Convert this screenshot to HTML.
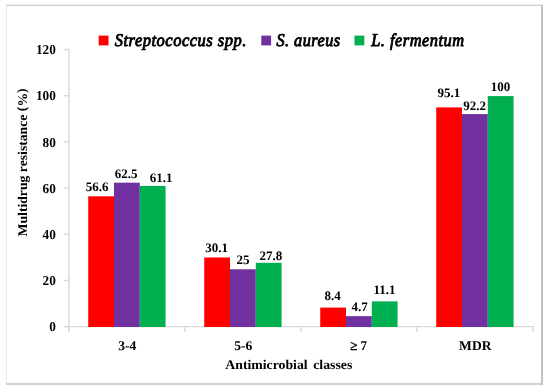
<!DOCTYPE html>
<html><head><meta charset="utf-8"><style>
html,body{margin:0;padding:0;background:#fff;}
body{width:550px;height:390px;overflow:hidden;position:relative;}
svg{position:absolute;left:0;top:0;}
text{font-family:"Liberation Serif",serif;font-weight:bold;fill:#000;text-rendering:geometricPrecision;}
.ax{font-size:13.3px;}
.dl{font-size:13px;}
.tt{font-size:13.3px;}
.lg{font-size:17px;font-style:italic;font-weight:normal;stroke:#000;stroke-width:0.85px;letter-spacing:0.5px;}
</style></head><body>
<svg width="550" height="390" viewBox="0 0 550 390">
<rect x="6" y="4" width="537" height="1" fill="#efefef"/>
<rect x="6" y="5" width="537" height="1" fill="#cdcdcd"/>
<rect x="6" y="6" width="1" height="377" fill="#ebebeb"/>
<rect x="541" y="6" width="2" height="379" fill="#c2c2c2"/>
<rect x="6" y="383" width="535" height="2" fill="#d0d0d0"/>
<line x1="68.9" y1="49.50" x2="68.9" y2="332" stroke="#d9d9d9" stroke-width="1.4"/>
<line x1="63.8" y1="326.6" x2="533.7" y2="326.6" stroke="#d9d9d9" stroke-width="1.4"/>
<line x1="63.8" y1="326.60" x2="68.9" y2="326.60" stroke="#d9d9d9" stroke-width="1.4"/>
<line x1="63.8" y1="280.42" x2="68.9" y2="280.42" stroke="#d9d9d9" stroke-width="1.4"/>
<line x1="63.8" y1="234.23" x2="68.9" y2="234.23" stroke="#d9d9d9" stroke-width="1.4"/>
<line x1="63.8" y1="188.05" x2="68.9" y2="188.05" stroke="#d9d9d9" stroke-width="1.4"/>
<line x1="63.8" y1="141.87" x2="68.9" y2="141.87" stroke="#d9d9d9" stroke-width="1.4"/>
<line x1="63.8" y1="95.68" x2="68.9" y2="95.68" stroke="#d9d9d9" stroke-width="1.4"/>
<line x1="63.8" y1="49.50" x2="68.9" y2="49.50" stroke="#d9d9d9" stroke-width="1.4"/>
<line x1="68.9" y1="326.6" x2="68.9" y2="332" stroke="#d9d9d9" stroke-width="1.4"/>
<line x1="184.9" y1="326.6" x2="184.9" y2="332" stroke="#d9d9d9" stroke-width="1.4"/>
<line x1="300.9" y1="326.6" x2="300.9" y2="332" stroke="#d9d9d9" stroke-width="1.4"/>
<line x1="416.9" y1="326.6" x2="416.9" y2="332" stroke="#d9d9d9" stroke-width="1.4"/>
<line x1="532.9" y1="326.6" x2="532.9" y2="332" stroke="#d9d9d9" stroke-width="1.4"/>
<rect x="88.23" y="196.30" width="25.78" height="130.70" fill="#FF0000"/>
<rect x="114.01" y="182.68" width="25.78" height="144.32" fill="#7030A0"/>
<rect x="139.79" y="185.91" width="25.78" height="141.09" fill="#00B050"/>
<rect x="204.23" y="257.49" width="25.78" height="69.51" fill="#FF0000"/>
<rect x="230.01" y="269.27" width="25.78" height="57.73" fill="#7030A0"/>
<rect x="255.79" y="262.81" width="25.78" height="64.19" fill="#00B050"/>
<rect x="320.23" y="307.60" width="25.78" height="19.40" fill="#FF0000"/>
<rect x="346.01" y="316.15" width="25.78" height="10.85" fill="#7030A0"/>
<rect x="371.79" y="301.37" width="25.78" height="25.63" fill="#00B050"/>
<rect x="436.23" y="107.40" width="25.78" height="219.60" fill="#FF0000"/>
<rect x="462.01" y="114.09" width="25.78" height="212.91" fill="#7030A0"/>
<rect x="487.79" y="96.08" width="25.78" height="230.92" fill="#00B050"/>
<text transform="translate(55.90,331.30) scale(1.000,1.020)" text-anchor="end" class="ax">0</text>
<text transform="translate(55.90,285.12) scale(1.000,1.020)" text-anchor="end" class="ax">20</text>
<text transform="translate(55.90,238.93) scale(1.000,1.020)" text-anchor="end" class="ax">40</text>
<text transform="translate(55.90,192.75) scale(1.000,1.020)" text-anchor="end" class="ax">60</text>
<text transform="translate(55.90,146.57) scale(1.000,1.020)" text-anchor="end" class="ax">80</text>
<text transform="translate(55.90,100.38) scale(1.000,1.020)" text-anchor="end" class="ax">100</text>
<text transform="translate(55.90,54.20) scale(1.000,1.020)" text-anchor="end" class="ax">120</text>
<text transform="translate(127.30,350.20) scale(1.020,1.000)" text-anchor="middle" class="ax">3-4</text>
<text transform="translate(243.30,350.20) scale(1.020,1.000)" text-anchor="middle" class="ax">5-6</text>
<text transform="translate(358.60,350.20) scale(0.980,1.000)" text-anchor="middle" class="ax"><tspan style="stroke:#000;stroke-width:0.35px">≥</tspan> 7</text>
<text transform="translate(475.30,350.20) scale(1.020,1.000)" text-anchor="middle" class="ax">MDR</text>
<text transform="translate(97.10,191.30)" text-anchor="middle" class="dl">56.6</text>
<text transform="translate(126.10,177.60)" text-anchor="middle" class="dl">62.5</text>
<text transform="translate(161.20,182.20)" text-anchor="middle" class="dl">61.1</text>
<text transform="translate(216.50,251.80)" text-anchor="middle" class="dl">30.1</text>
<text transform="translate(243.00,264.00)" text-anchor="middle" class="dl">25</text>
<text transform="translate(270.90,260.00)" text-anchor="middle" class="dl">27.8</text>
<text transform="translate(332.70,300.00)" text-anchor="middle" class="dl">8.4</text>
<text transform="translate(359.60,310.50)" text-anchor="middle" class="dl">4.7</text>
<text transform="translate(384.50,294.20)" text-anchor="middle" class="dl">11.1</text>
<text transform="translate(448.80,97.30)" text-anchor="middle" class="dl">95.1</text>
<text transform="translate(474.70,110.00)" text-anchor="middle" class="dl">92.2</text>
<text transform="translate(500.50,90.50)" text-anchor="middle" class="dl">100</text>
<text transform="translate(225.30,368.50) scale(1.035,1.000)" class="tt">Antimicrobial</text>
<text transform="translate(313.20,368.50) scale(1.040,1.000)" class="tt">classes</text>
<text transform="translate(27.00,162.40) rotate(-90) scale(1.030,1.000)" text-anchor="middle" class="tt">Multidrug resistance <tspan dy="-1.3">(</tspan><tspan dy="1.3">%</tspan><tspan dy="-1.3">)</tspan></text>
<rect x="98.7" y="35.6" width="9.8" height="9.8" fill="#FF0000"/>
<text transform="translate(114.80,45.90) scale(0.972,1.060)" class="lg">Streptococcus spp.</text>
<rect x="261.3" y="35.6" width="9.8" height="9.8" fill="#7030A0"/>
<text transform="translate(276.40,45.90) scale(0.957,1.060)" class="lg">S. aureus</text>
<rect x="354.5" y="35.6" width="9.8" height="9.8" fill="#00B050"/>
<text transform="translate(371.20,45.90) scale(0.966,1.060)" class="lg">L. fermentum</text>
</svg>
</body></html>
